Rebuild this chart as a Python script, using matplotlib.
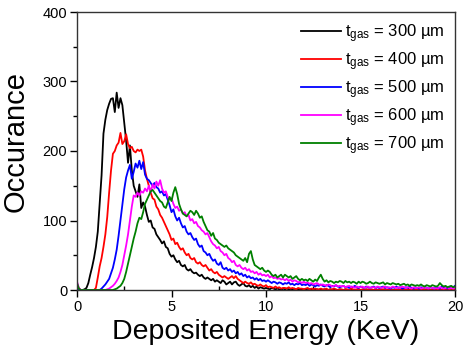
import numpy as np
import matplotlib
matplotlib.use("Agg")
import matplotlib.pyplot as plt
from matplotlib.ticker import MultipleLocator

plt.rcParams['font.family'] = ['Liberation Sans', 'DejaVu Sans']
plt.rcParams['mathtext.fontset'] = 'custom'
plt.rcParams['mathtext.rm'] = 'Liberation Sans'
plt.rcParams['mathtext.it'] = 'Liberation Sans'

# Energy bins (KeV), 0.1 KeV step
energy_start = 0.0
energy_step = 0.1

labels = ["300", "400", "500", "600", "700"]
colors = ["#000000", "#FF0000", "#0000FF", "#FF00FF", "#008000"]

t300 = [4, 1, 0, 0, 1, 3, 10, 22, 33, 46,
        62, 84, 125, 165, 225, 245, 259, 268, 275, 276,
        256, 284, 262, 276, 266, 240, 215, 183, 208, 172,
        150, 142, 134, 152, 118, 126, 120, 108, 98, 100,
        90, 88, 80, 76, 72, 67, 70, 62, 60, 52,
        48, 50, 44, 40, 42, 36, 34, 36, 30, 28,
        30, 26, 24, 25, 22, 20, 22, 18, 16, 18,
        16, 14, 16, 12, 14, 12, 10, 14, 12, 8,
        10, 12, 8, 11, 12, 8, 6, 8, 10, 6,
        5, 7, 4, 6, 3, 5, 2, 4, 3, 2,
        3, 2, 1, 3, 2, 1, 2, 1, 0, 2,
        1, 2, 1, 0, 1, 2, 0, 1, 1, 0,
        1, 0, 2, 1, 0, 1, 0, 1, 0, 1,
        0, 1, 0, 0, 1, 0, 1, 0, 0, 1,
        0, 0, 1, 0, 0, 1, 0, 0, 0, 1,
        0, 0, 0, 1, 0, 0, 0, 0, 1, 0,
        0, 1, 0, 0, 0, 0, 1, 0, 0, 0,
        0, 0, 0, 1, 0, 0, 0, 0, 0, 1,
        0, 0, 0, 0, 1, 0, 0, 0, 0, 0,
        1, 0, 0, 0, 0, 0, 1, 0, 0, 0,
        0]

t400 = [8, 2, 0, 0, 0, 0, 0, 0, 0, 0,
        3, 18, 34, 46, 62, 80, 105, 140, 172, 196,
        200, 208, 212, 226, 210, 214, 224, 210, 204, 206,
        200, 198, 202, 200, 202, 192, 172, 160, 150, 140,
        132, 130, 120, 116, 108, 104, 98, 92, 86, 80,
        72, 74, 66, 68, 62, 58, 60, 54, 50, 52,
        46, 44, 46, 40, 38, 40, 36, 34, 36, 32,
        28, 30, 26, 24, 26, 22, 20, 18, 20, 18,
        16, 18, 20, 17, 20, 16, 14, 12, 10, 12,
        10, 9, 11, 8, 9, 7, 6, 8, 6, 5,
        7, 4, 5, 4, 3, 5, 3, 4, 2, 3,
        3, 2, 4, 2, 3, 2, 1, 3, 2, 2,
        1, 2, 3, 1, 2, 1, 2, 1, 1, 2,
        1, 1, 2, 0, 1, 1, 2, 1, 0, 1,
        1, 0, 1, 1, 0, 2, 1, 0, 1, 1,
        0, 1, 1, 0, 1, 0, 1, 0, 1, 0,
        1, 0, 1, 1, 0, 0, 1, 0, 0, 1,
        0, 1, 0, 0, 1, 0, 0, 1, 0, 0,
        1, 0, 0, 1, 0, 0, 1, 0, 0, 0,
        1, 0, 0, 0, 1, 0, 0, 1, 0, 0,
        1]

t500 = [5, 1, 0, 0, 0, 0, 0, 0, 0, 0,
        0, 0, 0, 2, 5, 8, 12, 16, 24, 32,
        44, 58, 78, 100, 122, 145, 162, 172, 180, 160,
        170, 182, 176, 186, 174, 184, 166, 160, 158, 154,
        150, 154, 148, 146, 140, 142, 136, 138, 130, 122,
        112, 116, 106, 100, 104, 96, 90, 92, 84, 80,
        82, 76, 72, 74, 66, 62, 64, 56, 54, 50,
        52, 46, 42, 44, 38, 36, 40, 32, 30, 32,
        28, 30, 26, 28, 24, 26, 22, 24, 20, 22,
        18, 20, 17, 18, 15, 17, 14, 16, 13, 14,
        12, 14, 12, 10, 12, 11, 9, 11, 10, 8,
        10, 9, 11, 8, 9, 7, 9, 8, 10, 7,
        8, 7, 9, 6, 8, 7, 5, 7, 6, 8,
        6, 5, 7, 6, 4, 6, 5, 7, 5, 4,
        5, 6, 4, 5, 3, 5, 4, 6, 4, 3,
        5, 4, 3, 5, 4, 3, 4, 5, 3, 4,
        3, 4, 5, 3, 4, 3, 2, 4, 3, 5,
        3, 4, 2, 3, 4, 3, 5, 3, 2, 4,
        3, 2, 4, 3, 5, 3, 2, 4, 3, 2,
        4, 3, 2, 5, 3, 4, 2, 3, 5, 4,
        6]

t600 = [12, 3, 0, 0, 0, 0, 0, 0, 0, 0,
        0, 0, 0, 0, 0, 0, 1, 2, 4, 6,
        9, 13, 18, 26, 36, 50, 64, 80, 100, 120,
        136, 134, 140, 136, 142, 140, 146, 142, 150, 140,
        152, 146, 156, 150, 158, 146, 140, 142, 134, 130,
        132, 124, 118, 120, 114, 116, 110, 112, 106, 108,
        100, 102, 96, 98, 92, 90, 86, 84, 80, 82,
        76, 70, 66, 64, 60, 62, 56, 54, 50, 52,
        46, 44, 40, 42, 36, 34, 36, 32, 30, 32,
        28, 30, 26, 27, 24, 26, 22, 24, 21, 22,
        20, 22, 18, 20, 17, 18, 16, 17, 15, 16,
        14, 16, 13, 15, 12, 14, 13, 11, 12, 10,
        12, 10, 11, 9, 10, 8, 9, 10, 8, 7,
        8, 7, 6, 8, 7, 5, 6, 7, 5, 6,
        5, 6, 4, 5, 6, 4, 5, 3, 5, 4,
        4, 5, 3, 4, 5, 3, 4, 4, 3, 5,
        4, 3, 4, 5, 3, 4, 3, 5, 4, 3,
        4, 3, 5, 4, 3, 4, 3, 2, 4, 3,
        3, 4, 2, 3, 4, 3, 2, 4, 3, 2,
        3, 2, 4, 3, 2, 3, 4, 2, 3, 2,
        3]

t700 = [10, 2, 0, 0, 0, 0, 0, 0, 0, 0,
        0, 0, 0, 0, 0, 0, 0, 0, 0, 0,
        1, 2, 4, 6, 10, 16, 26, 38, 50, 62,
        74, 84, 96, 104, 102, 112, 124, 130, 136, 142,
        144, 140, 136, 132, 128, 126, 120, 118, 126, 134,
        128, 140, 148, 138, 124, 116, 110, 108, 106, 110,
        114, 112, 108, 114, 110, 104, 106, 98, 92, 86,
        84, 78, 82, 74, 72, 68, 66, 64, 62, 64,
        60, 58, 56, 54, 50, 48, 46, 44, 42, 46,
        40, 52, 56, 44, 36, 34, 32, 30, 32, 28,
        26, 28, 26, 22, 20, 22, 18, 20, 22, 18,
        22, 20, 18, 20, 16, 18, 20, 16, 14, 16,
        14, 15, 13, 16, 14, 12, 15, 13, 18, 22,
        16, 12, 14, 11, 13, 12, 10, 12, 11, 13,
        12, 10, 13, 11, 12, 10, 12, 11, 9, 12,
        10, 12, 11, 9, 10, 12, 10, 9, 11, 10,
        9, 10, 11, 8, 10, 9, 8, 10, 9, 8,
        9, 7, 8, 9, 7, 8, 6, 8, 7, 6,
        7, 6, 8, 6, 5, 7, 6, 5, 7, 6,
        5, 6, 10, 7, 5, 6, 4, 5, 6, 4,
        5]

series = [t300, t400, t500, t600, t700]

x_ticks = [0, 5, 10, 15, 20]
y_ticks = [0, 100, 200, 300, 400]

fig = plt.figure(figsize=(4.74, 3.51), dpi=100)
ax = fig.add_axes([77/474, 61/351, 378/474, 278/351])

for vals, lab, col in zip(series, labels, colors):
    y = np.asarray(vals, dtype=float)
    x = energy_start + energy_step * np.arange(len(y))
    ax.plot(x, y, color=col, lw=1.3,
            label=r'$\mathregular{t_{gas}}$ = ' + lab + ' \u00b5m')

ax.set_xlim(0, 20)
ax.set_ylim(0, 400)
ax.set_xticks(x_ticks)
ax.set_yticks(y_ticks)
ax.xaxis.set_minor_locator(MultipleLocator(2.5))
ax.yaxis.set_minor_locator(MultipleLocator(50))
ax.tick_params(axis='both', which='major', direction='out', length=5, width=1,
               labelsize=10.5, pad=2, top=False, right=False)
ax.tick_params(axis='x', which='minor', direction='in', length=3, width=1, top=False)
ax.tick_params(axis='y', which='minor', direction='out', length=3, width=1, right=False)
for s in ax.spines.values():
    s.set_linewidth(1.0)
    s.set_color('#333333')

ax.set_xlabel('Deposited Energy (KeV)', fontsize=20.5)
ax.set_ylabel('Occurance', fontsize=21)
ax.xaxis.set_label_coords(0.5, -0.105)
ax.yaxis.set_label_coords(-0.125, 0.534)

leg = ax.legend(loc='upper right', frameon=False, fontsize=12,
                handlelength=2.4, handletextpad=0.25, labelspacing=0.33,
                borderaxespad=0.2, bbox_to_anchor=(1.0, 1.0))

fig.savefig('out.png', dpi=100)
